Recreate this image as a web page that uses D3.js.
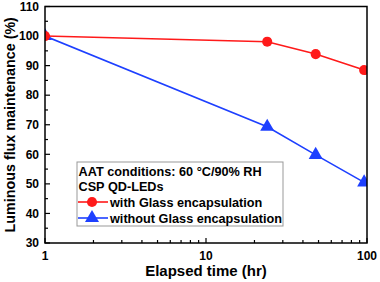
<!DOCTYPE html>
<html>
<head>
<meta charset="utf-8">
<script src="https://cdn.jsdelivr.net/npm/d3@7"></script>
<style>
  body { margin: 0; background: #fff; }
  svg { display: block; font-family: "Liberation Sans", Arial, sans-serif; font-weight: bold; }
</style>
</head>
<body>
<div id="chart"></div>
<script>
// data
const hours = [1, 24, 48, 96]
const withGlass = [100, 98.1, 93.9, 88.5]
const withoutGlass = [100, 69.3, 59.8, 50.5]
const xTicks = [1, 10, 100]
const yTicks = [30, 40, 50, 60, 70, 80, 90, 100, 110]
const legendLines = ["AAT conditions: 60 \u00B0C/90% RH", "CSP QD-LEDs"]
const seriesNames = ["with Glass encapsulation", "without Glass encapsulation"]

const width = 380, height = 282
const margin = ({ top: 6.5, right: 13, bottom: 39, left: 45 })

const svg = d3.select("#chart").append("svg")
    .attr("width", width)
    .attr("height", height)

const x = d3.scaleLog()
    .domain([1, 100])
    .range([margin.left, width - margin.right])
const y = d3.scaleLinear()
    .domain([30, 110])
    .range([height - margin.bottom, margin.top])

// clip markers at the frame
svg.append("clipPath").attr("id", "clip")
    .append("rect")
    .attr("x", margin.left).attr("y", margin.top)
    .attr("width", x(100) - x(1)).attr("height", y(30) - y(110))

// minor ticks
const xMinor = []
for (let d of [1, 10]) for (let k = 2; k <= 9; k++) xMinor.push(d * k)
const yMinor = d3.range(35, 110, 10)

const ticks = svg.append("g").attr("stroke", "#000").attr("stroke-width", 1.2)
ticks.selectAll(".xmaj").data(xTicks).enter().append("line")
    .attr("x1", d => x(d)).attr("x2", d => x(d))
    .attr("y1", y(30)).attr("y2", y(30) - 5)
ticks.selectAll(".xmin").data(xMinor).enter().append("line")
    .attr("x1", d => x(d)).attr("x2", d => x(d))
    .attr("y1", y(30)).attr("y2", y(30) - 3)
ticks.selectAll(".ymaj").data(yTicks).enter().append("line")
    .attr("y1", d => y(d)).attr("y2", d => y(d))
    .attr("x1", x(1)).attr("x2", x(1) + 5)
ticks.selectAll(".ymin").data(yMinor).enter().append("line")
    .attr("y1", d => y(d)).attr("y2", d => y(d))
    .attr("x1", x(1)).attr("x2", x(1) + 3)

// tick labels
svg.append("g").selectAll("text").data(xTicks).enter().append("text")
    .attr("x", d => x(d)).attr("y", 260)
    .attr("text-anchor", "middle").style("font-size", "12px")
    .text(d => d)
svg.append("g").selectAll("text").data(yTicks).enter().append("text")
    .attr("x", 39).attr("y", d => y(d) + 4.3)
    .attr("text-anchor", "end").style("font-size", "12px")
    .text(d => d)

// axis titles
svg.append("text")
    .attr("x", (x(1) + x(100)) / 2).attr("y", 276)
    .attr("text-anchor", "middle").style("font-size", "15px")
    .text("Elapsed time (hr)")
svg.append("text")
    .attr("transform", `translate(15,${(y(30) + y(110)) / 2}) rotate(-90)`)
    .attr("text-anchor", "middle").style("font-size", "14.3px")
    .text("Luminous flux maintenance (%)")

// series
const series = [
    { name: seriesNames[0], values: withGlass, color: "#ff1a1a", shape: d3.symbolCircle, size: 80 },
    { name: seriesNames[1], values: withoutGlass, color: "#1e40ff", shape: d3.symbolTriangle, size: 85 }
]
const line = d3.line().x(d => x(d[0])).y(d => y(d[1]))
const plot = svg.append("g").attr("clip-path", "url(#clip)")

series.slice().reverse().forEach(s => {
    const pts = hours.map((h, i) => [h, s.values[i]])
    plot.append("path")
        .attr("d", line(pts))
        .attr("fill", "none")
        .attr("stroke", s.color)
        .attr("stroke-width", 1.6)
    plot.selectAll(null).data(pts).enter().append("path")
        .attr("d", d3.symbol().type(s.shape).size(s.size))
        .attr("transform", d => `translate(${x(d[0])},${y(d[1])})`)
        .attr("fill", s.color)
})

// frame
svg.append("rect")
    .attr("x", x(1)).attr("y", y(110))
    .attr("width", x(100) - x(1)).attr("height", y(30) - y(110))
    .attr("fill", "none").attr("stroke", "#000").attr("stroke-width", 1.5)

// legend
const lg = svg.append("g").attr("transform", "translate(77,162)")
lg.append("rect")
    .attr("width", 206).attr("height", 64)
    .attr("fill", "#fff").attr("stroke", "#999").attr("stroke-width", 1)
lg.selectAll(".hdr").data(legendLines).enter().append("text")
    .attr("x", 1.5).attr("y", (d, i) => 13.5 + i * 15.5)
    .style("font-size", "12.7px")
    .text(d => d)
series.forEach((s, i) => {
    const ly = 40 + i * 16
    lg.append("line")
        .attr("x1", 1).attr("x2", 31).attr("y1", ly).attr("y2", ly)
        .attr("stroke", s.color).attr("stroke-width", 1.6)
    lg.append("path")
        .attr("d", d3.symbol().type(s.shape).size(s.size))
        .attr("transform", `translate(15,${ly})`)
        .attr("fill", s.color)
    lg.append("text")
        .attr("x", 33).attr("y", ly + 4.5)
        .style("font-size", "12.7px")
        .text(s.name)
})
</script>
</body>
</html>
